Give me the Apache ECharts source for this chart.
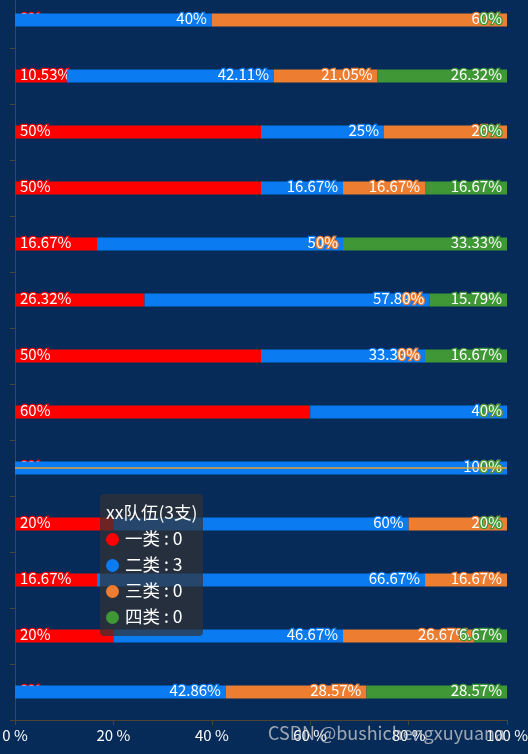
<!DOCTYPE html>
<html>
<head>
<meta charset="utf-8">
<script src="https://cdn.jsdelivr.net/npm/echarts@6/dist/echarts.min.js"></script>
<style>
html,body{margin:0;padding:0;background:#072b58;}
#chart{width:528px;height:754px;}
</style>
</head>
<body>
<div id="chart"></div>
<script>
// ---- data ----
const categories = ['xx队伍(5支)','xx队伍(19支)','xx队伍(4支)','xx队伍(6支)','xx队伍(6支)','xx队伍(19支)','xx队伍(6支)','xx队伍(5支)','xx队伍(3支)','xx队伍(5支)','xx队伍(6支)','xx队伍(15支)','xx队伍(7支)'];
const classNames = ['一类','二类','三类','四类'];
// percentages shown on bars
const class1Pct = [0, 10.53, 50, 50, 16.67, 26.32, 50, 60, 0, 20, 16.67, 20, 0];
const class2Pct = [40, 42.11, 25, 16.67, 50, 57.89, 33.33, 40, 100, 60, 66.67, 46.67, 42.86];
const class3Pct = [60, 21.05, 25, 16.67, 0, 0, 0, 0, 0, 20, 16.67, 26.67, 28.57];
const class4Pct = [0, 26.32, 0, 16.67, 33.33, 15.79, 16.67, 0, 0, 0, 0, 6.67, 28.57];
// team counts shown in tooltip
const class1Count = [0, 2, 2, 3, 1, 5, 3, 3, 0, 1, 1, 3, 0];
const class2Count = [2, 8, 1, 1, 3, 11, 2, 2, 3, 3, 4, 7, 3];
const class3Count = [3, 4, 1, 1, 0, 0, 0, 0, 0, 1, 1, 4, 2];
const class4Count = [0, 5, 0, 1, 2, 3, 1, 0, 0, 0, 0, 1, 2];
const xTicks = [0, 20, 40, 60, 80, 100];

const colors = ['#ff0000', '#0a7bf0', '#ed7d31', '#3f9735'];
const pctData = [class1Pct, class2Pct, class3Pct, class4Pct];
const countData = [class1Count, class2Count, class3Count, class4Count];
const labelPos = ['insideLeft', 'insideRight', 'insideRight', 'insideRight'];
const FONT = "'Microsoft YaHei','Noto Sans CJK SC',sans-serif";
const axisColor = '#4d4530';

const chart = echarts.init(document.getElementById('chart'));
const series = classNames.map((name, i) => ({
  name: name,
  type: 'bar',
  stack: 'total',
  barWidth: 13,
  z: i + 1,
  data: pctData[i],
  itemStyle: { color: colors[i] },
  label: {
    show: true,
    position: labelPos[i],
    distance: 5,
    offset: [0, -2],
    color: '#fff',
    fontSize: 15,
    fontFamily: FONT,
    textBorderColor: colors[i],
    textBorderWidth: 2.5,
    formatter: p => p.value + '%'
  },
  emphasis: { disabled: true }
}));

chart.setOption({
  backgroundColor: '#072b58',
  animation: false,
  grid: { left: 15, right: 21, top: -8, bottom: 34, containLabel: false, outerBoundsMode: 'none' },
  xAxis: {
    type: 'value',
    min: xTicks[0],
    max: xTicks[xTicks.length - 1],
    interval: 20,
    axisLine: { show: true, lineStyle: { color: axisColor } },
    axisTick: { show: true, lineStyle: { color: axisColor } },
    splitLine: { show: false },
    axisLabel: { color: '#fff', fontSize: 15, fontFamily: FONT, margin: 8, formatter: '{value} %' }
  },
  yAxis: {
    type: 'category',
    inverse: true,
    data: categories,
    axisLine: { show: true, lineStyle: { color: axisColor } },
    axisTick: { show: true, length: 5, lineStyle: { color: axisColor } },
    axisLabel: { show: false },
    splitLine: { show: false }
  },
  tooltip: {
    trigger: 'axis',
    alwaysShowContent: true,
    axisPointer: { type: 'line', lineStyle: { color: '#e0a23a', width: 1.5, type: 'solid' } },
    backgroundColor: 'rgba(50,50,50,0.7)',
    borderWidth: 0,
    padding: [5, 6, 7, 6],
    textStyle: { color: '#fff', fontSize: 17, fontFamily: FONT },
    extraCssText: 'box-shadow:none;border-radius:4px;',
    position: function () { return [100, 494]; },
    formatter: function (params) {
      let s = '<div style="line-height:26px;font-size:17.5px;color:#fff">' + params[0].name;
      params.forEach(p => {
        s += '<br/><span style="display:inline-block;width:13px;height:13px;border-radius:50%;background:' + colors[p.seriesIndex] + ';margin-right:6px;vertical-align:-1px"></span>' +
          p.seriesName + ' : ' + countData[p.seriesIndex][p.dataIndex];
      });
      return s + '</div>';
    }
  },
  graphic: [{
    type: 'text',
    left: 268,
    top: 724,
    z: 100,
    style: { text: 'CSDN @bushichengxuyuana', fill: 'rgba(210,210,210,0.75)', fontSize: 18, fontFamily: FONT }
  }],
  series: series
});

chart.dispatchAction({ type: 'showTip', seriesIndex: 1, dataIndex: 8 });
</script>
</body>
</html>
